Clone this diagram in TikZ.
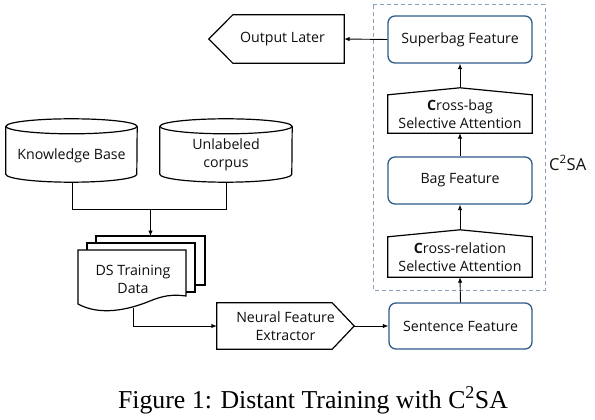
\documentclass[tikz,border=0pt]{standalone}
\usepackage{fontspec}
\setmainfont{Liberation Serif}
\newfontfamily\diagfont{Open Sans}
\usetikzlibrary{arrows.meta,calc}
\definecolor{boxblue}{RGB}{46,92,138}
\definecolor{dashblue}{RGB}{140,160,185}
\definecolor{txt}{RGB}{15,15,15}
\tikzset{
  lbl/.style={font=\diagfont\fontsize{14.2}{18}\selectfont, text=txt, align=center, inner sep=0pt},
  frame/.style={draw=black, line width=1.2pt, fill=white, line join=miter},
  bluebox/.style={lbl, draw=boxblue, line width=1.3pt, rounded corners=7pt, fill=white},
  conn/.style={draw=black, line width=0.9pt},
  arr/.style={conn, -{Latex[length=5.5pt,width=4.5pt]}},
}
\begin{document}
\begin{tikzpicture}[x=1pt,y=-1pt]
\useasboundingbox (0,0) rectangle (595,420);

% dashed C2SA region
\draw[dashblue, line width=1pt, dash pattern=on 4pt off 3pt] (373,5) rectangle (545,290);
\node[lbl, font=\diagfont\fontsize{16.5}{20}\selectfont, anchor=west] (c2sa) at (549,163) {C\textsuperscript{2}SA};

% Output Later (pentagon pointing left)
\node[lbl, minimum width=135pt, minimum height=48pt] (out) at (276.5,39) {\hspace*{12pt}Output Later};
\draw[frame, fill=none] (out.west) -- ($(out.north west)+(24,0)$) -- (out.north east) -- (out.south east) -- ($(out.south west)+(24,0)$) -- cycle;

% blue rounded boxes
\node[bluebox, minimum width=144pt, minimum height=47pt] (sb) at (460,39.5) {Superbag Feature};
\node[bluebox, minimum width=144pt, minimum height=47pt] (bag) at (460,180.5) {Bag Feature};
\node[bluebox, minimum width=143pt, minimum height=46pt] (sf) at (460.5,326) {Sentence Feature};

% Cross-bag (house shape)
\node[lbl, minimum width=144pt, minimum height=38pt] (cb) at (460,114) {\textbf{C}ross-bag\\Selective Attention};
\draw[frame, fill=none] (cb.south west) -- (cb.north west) -- ($(cb.north)+(0,-7)$) coordinate (cbtop) -- (cb.north east) -- (cb.south east) -- cycle;

% Cross-relation (house shape)
\node[lbl, minimum width=144pt, minimum height=40pt] (cr) at (460,257) {\textbf{C}ross-relation\\Selective Attention};
\draw[frame, fill=none] (cr.south west) -- (cr.north west) -- ($(cr.north)+(0,-7)$) coordinate (crtop) -- (cr.north east) -- (cr.south east) -- cycle;

% Neural Feature Extractor (pentagon pointing right)
\node[lbl, minimum width=137pt, minimum height=46pt] (nfe) at (285.5,326) {Neural Feature\\Extractor};
\draw[frame, fill=none] (nfe.north west) -- ($(nfe.north east)+(-22,0)$) -- (nfe.east) -- ($(nfe.south east)+(-22,0)$) -- (nfe.south west) -- cycle;

% cylinders
\node[lbl, minimum width=131pt, minimum height=63pt] (kb) at (71.5,150.5) {};
\node[lbl] (kbt) at (71.5,156) {Knowledge Base};
\draw[frame, fill=none] ($(kb.north west)+(0,7.5)$) -- ($(kb.south west)+(0,-8)$)
  arc[start angle=180, end angle=360, x radius=65.5pt, y radius=8pt]
  -- ($(kb.north east)+(0,7.5)$);
\draw[frame, fill=none] ($(kb.north)+(0,7.5)$) ellipse[x radius=65.5pt, y radius=7.5pt];

\node[lbl, minimum width=132pt, minimum height=63pt] (uc) at (226,150.5) {};
\node[lbl] (uct) at (226,155) {Unlabeled\\corpus};
\draw[frame, fill=none] ($(uc.north west)+(0,7.5)$) -- ($(uc.south west)+(0,-8)$)
  arc[start angle=180, end angle=360, x radius=66pt, y radius=8pt]
  -- ($(uc.north east)+(0,7.5)$);
\draw[frame, fill=none] ($(uc.north)+(0,7.5)$) ellipse[x radius=66pt, y radius=7.5pt];

% DS training data (multi-document)
\draw[frame] (96,236) rectangle (205,285);
\coordinate (dstop) at (150.5,236);
\draw[frame] (87,243) rectangle (195,292);
\draw[frame] (78,304) -- (78,250) -- (186,250) -- (186,296)
  .. controls (172,294) and (162,296) .. (150,301)
  .. controls (128,310) and (100,316) .. (78,304) -- cycle;
\coordinate (dsbot) at (133,308);
\node[lbl] (ds) at (133,279) {DS Training\\Data};

% connectors
\coordinate (j1) at (72,209);
\coordinate (j2) at (226,209);
\coordinate (jm) at (150.5,209);
\draw[conn] (kb.south -| j1) -- (j1) -- (j2) -- (uc.south -| j2);
\draw[arr] (jm) -- (dstop);
\draw[arr] (dsbot) |- (nfe.west);
\draw[arr] (nfe.east) -- (sf.west);
\draw[arr] (sf.north) -- (cr.south);
\draw[arr] (crtop) -- (bag.south);
\draw[arr] (bag.north) -- (cb.south);
\draw[arr] (cbtop) -- (sb.south);
\draw[arr] (sb.west) -- (out.east);

% caption
\node[anchor=base, inner sep=0pt, font=\fontsize{25.8}{30}\selectfont] (cap) at (313,408) {Figure 1: Distant Training with C\textsuperscript{2}SA};
\end{tikzpicture}
\end{document}
